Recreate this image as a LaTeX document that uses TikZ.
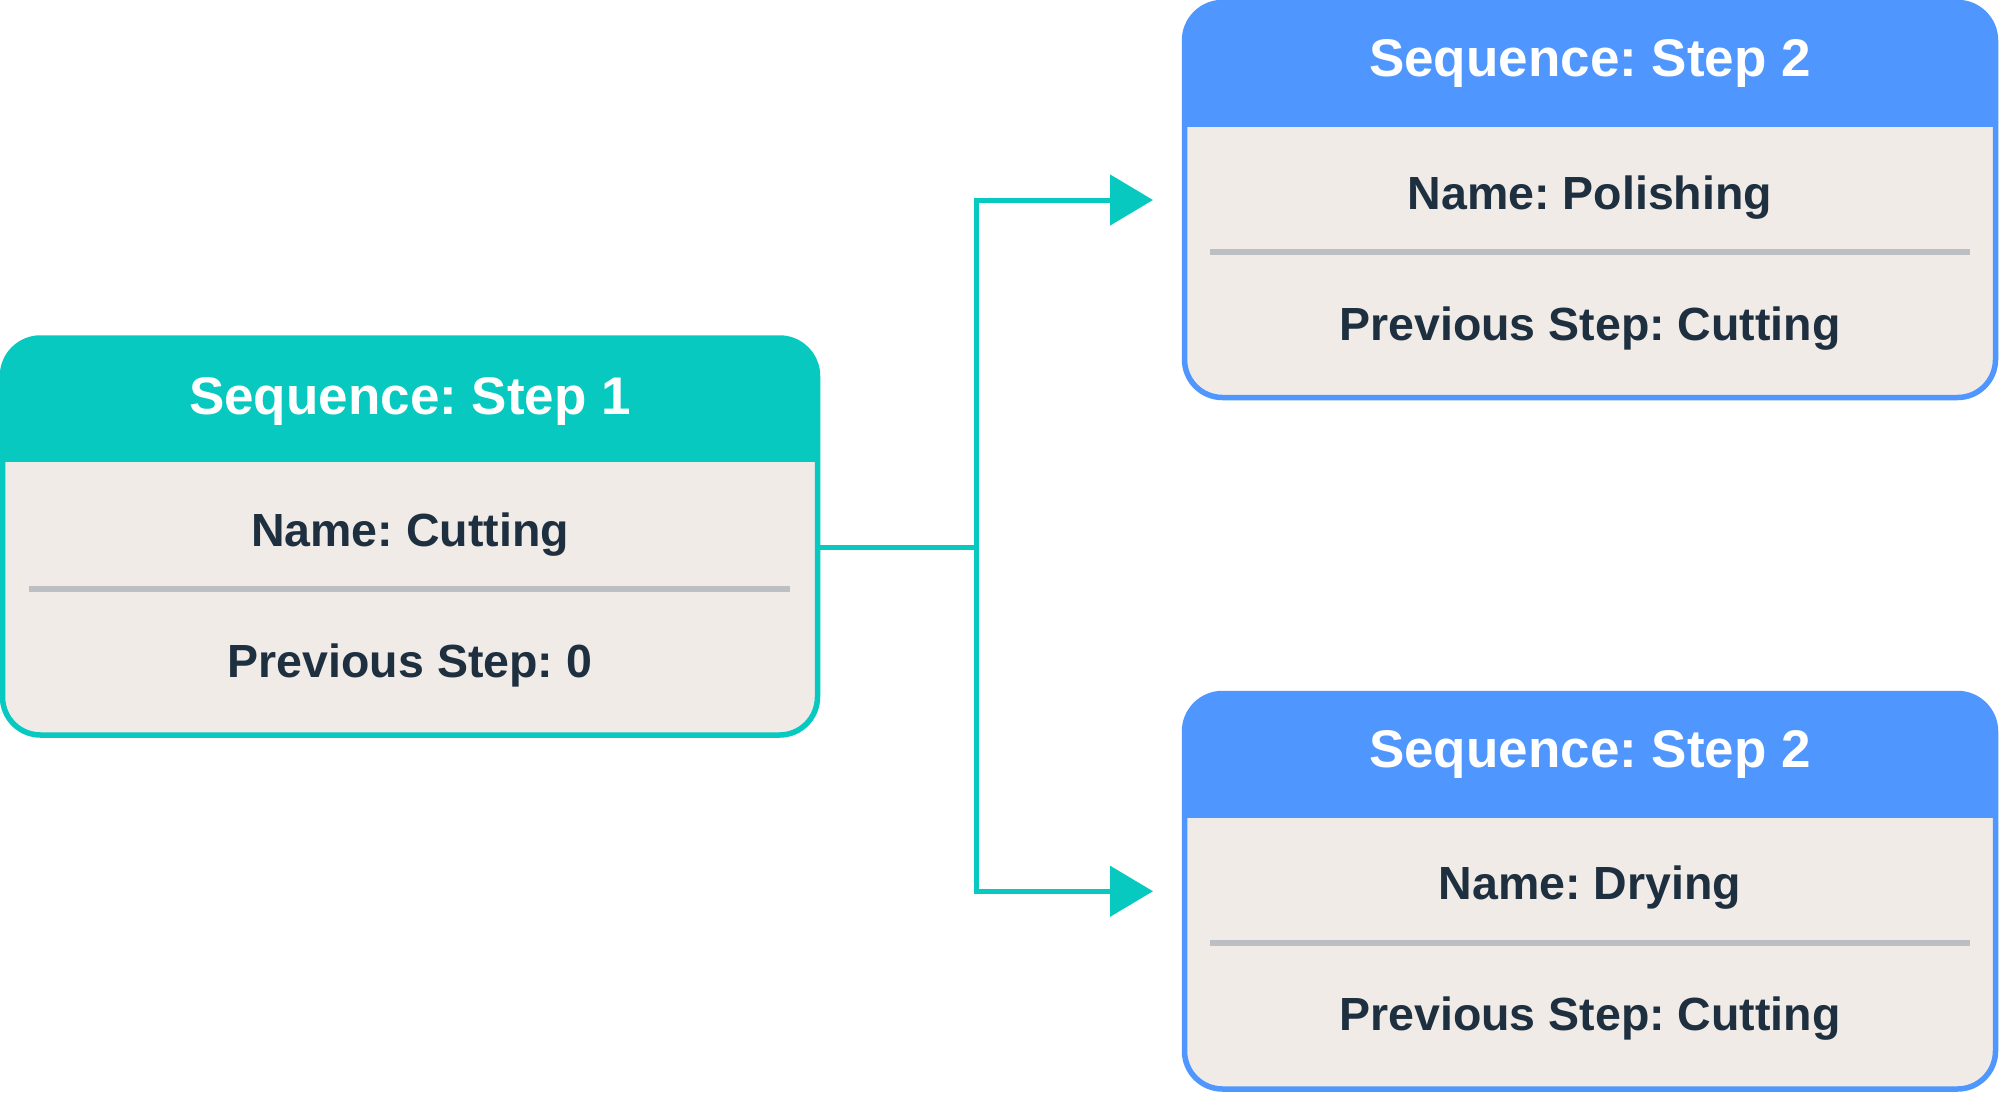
\documentclass[tikz,border=0pt]{standalone}
\usepackage{fontspec}
\setmainfont{Liberation Sans}
\usetikzlibrary{arrows.meta}
\definecolor{tealc}{HTML}{07C9BF}
\definecolor{bluec}{HTML}{4F97FF}
\definecolor{bodyc}{HTML}{F0EBE7}
\definecolor{divc}{HTML}{BBBEC2}
\definecolor{txtc}{HTML}{1E2F3F}
\frenchspacing
\begin{document}
\begin{tikzpicture}[x=1pt,y=-1pt,
  card/.style={draw=#1, fill=bodyc, line width=5.5pt, rounded corners=38pt,
    inner sep=0pt, outer sep=0pt,
    path picture={\fill[#1, sharp corners] (path picture bounding box.north west) rectangle ([yshift=-124pt]path picture bounding box.north east);}},
  hdrtxt/.style={anchor=base, inner sep=0pt, text=white, font=\fontsize{53}{60}\selectfont\bfseries\frenchspacing},
  bodytxt/.style={anchor=base, inner sep=0pt, text=txtc, font=\fontsize{46.5}{54}\selectfont\bfseries\frenchspacing},
  divline/.style={draw=divc, line width=6pt},
  conn/.style={draw=tealc, line width=5pt},
  tip/.style={-{Triangle[length=43pt 0 0, width=50pt 0 0]}}
]
\useasboundingbox (0,0) rectangle (2000,1093);
\fill[white] (0,0) rectangle (2000,1093);

% Step 1 card
\node[card=tealc, minimum width=815pt, minimum height=397pt] (s1) at (410,536.5) {};
\node[hdrtxt] (s1h) at (410,414) {Sequence: Step 1};
\node[bodytxt] (s1n) at (410,546) {Name: Cutting};
\draw[divline] (29,589) -- (790,589);
\node[bodytxt] (s1p) at (410,677) {Previous Step: 0};

% Step 2 card (top)
\node[card=bluec, minimum width=811pt, minimum height=395pt] (s2) at (1590,200) {};
\node[hdrtxt] (s2h) at (1590,76) {Sequence: Step 2};
\node[bodytxt] (s2n) at (1590,209) {Name: Polishing};
\draw[divline] (1210,252) -- (1970,252);
\node[bodytxt] (s2p) at (1590,340) {Previous Step: Cutting};

% Step 2 card (bottom)
\node[card=bluec, minimum width=811pt, minimum height=395.5pt] (s3) at (1590,891.25) {};
\node[hdrtxt] (s3h) at (1590,767) {Sequence: Step 2};
\node[bodytxt] (s3n) at (1590,899) {Name: Drying};
\draw[divline] (1210,943) -- (1970,943);
\node[bodytxt] (s3p) at (1590,1030) {Previous Step: Cutting};

% connectors
\coordinate (j) at (976,547);
\draw[conn, tip] ([yshift=-10.5pt]s1.east) -- (j) |- ([xshift=-31.5pt]s2.west);
\draw[conn, tip] (j) |- ([xshift=-31.5pt]s3.west);
\end{tikzpicture}
\end{document}
